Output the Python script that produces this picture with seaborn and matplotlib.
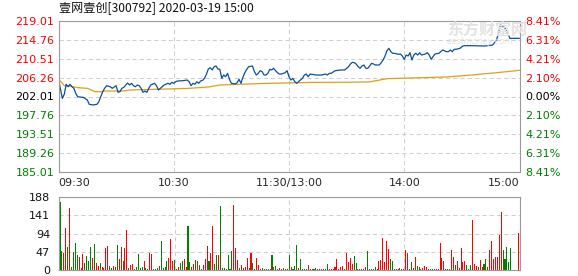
import numpy as np
import pandas as pd
import matplotlib
matplotlib.use("Agg")
import matplotlib.pyplot as plt
import seaborn as sns

# ---------------- data ----------------
title = "壹网壹创[300792] 2020-03-19 15:00"
pre_close = 202.01

price_ticks = [219.01, 214.76, 210.51, 206.26, 202.01, 197.76, 193.51, 189.26, 185.01]
pct_labels = ["8.41%", "6.31%", "4.21%", "2.10%", "0.00%", "2.10%", "4.21%", "6.31%", "8.41%"]
time_labels = ["09:30", "10:30", "11:30/13:00", "14:00", "15:00"]
time_ticks = [0, 60, 120, 180, 240]
vol_ticks = [0, 47, 94, 141, 188]

price_min = [0, 2, 3, 4, 5, 6, 7, 8, 9, 10, 13, 15, 16, 18, 20, 21, 22, 23, 24, 25,
             27, 28, 30, 31, 32, 33, 34, 35, 36, 37, 38, 39, 40, 41, 42, 43, 44, 45, 46, 47,
             48, 50, 51, 52, 53, 54, 55, 57, 58, 59, 60, 61, 62, 65, 67, 68, 69, 70, 71, 72,
             73, 74, 75, 76, 77, 78, 79, 80, 81, 82, 83, 84, 85, 86, 87, 88, 89, 90, 92, 93,
             94, 95, 96, 97, 98, 99, 101, 102, 103, 104, 105, 106, 107, 108, 109, 110, 111, 112, 113, 114,
             115, 116, 118, 119, 120, 121, 122, 123, 124, 125, 127, 128, 129, 130, 131, 134, 137, 139, 140, 141,
             142, 144, 147, 149, 151, 152, 153, 154, 155, 156, 157, 158, 159, 160, 161, 162, 163, 164, 165, 167,
             168, 169, 170, 171, 172, 173, 174, 175, 177, 178, 179, 180, 181, 182, 183, 184, 185, 186, 187, 188,
             189, 191, 192, 193, 194, 195, 196, 198, 199, 200, 202, 203, 204, 205, 206, 207, 209, 210, 211, 215,
             222, 226, 227, 228, 229, 230, 231, 232, 233, 234, 235, 240]
price = [205.90, 201.60, 202.50, 204.75, 204.20, 204.75, 204.20, 203.85, 202.70, 201.96, 201.80, 201.22, 200.25, 200.10, 200.25, 200.84, 201.96, 203.10, 203.85, 204.44,
         204.20, 203.85, 204.44, 202.95, 203.10, 203.85, 204.08, 204.60, 205.05, 204.60, 204.98, 204.44, 204.20, 204.60, 204.44, 203.85, 202.95, 203.25, 202.95, 203.85,
         204.60, 204.98, 204.44, 203.47, 203.85, 204.20, 204.60, 204.98, 204.75, 205.20, 204.98, 205.35, 205.50, 205.57, 205.72, 205.35, 204.44, 204.98, 204.75, 205.35,
         204.98, 205.50, 205.65, 206.10, 207.00, 208.20, 208.50, 207.98, 208.72, 208.88, 208.20, 208.13, 206.10, 206.85, 206.47, 207.23, 205.88, 204.98, 204.82, 205.12,
         205.88, 204.98, 206.33, 207.37, 208.13, 208.72, 208.88, 207.60, 206.85, 207.23, 207.82, 207.60, 206.85, 206.85, 207.23, 208.13, 207.98, 208.36, 207.82, 207.37,
         207.07, 207.07, 207.37, 207.82, 206.47, 205.72, 206.10, 205.35, 204.98, 205.35, 206.10, 206.85, 207.07, 206.47, 207.07, 206.85, 206.85, 207.07, 206.85, 207.23,
         207.23, 207.82, 207.98, 207.98, 208.72, 209.33, 209.71, 209.62, 209.33, 208.72, 208.36, 208.88, 209.10, 208.36, 208.36, 208.88, 209.48, 209.33, 209.10, 209.10,
         209.62, 210.23, 211.13, 212.32, 212.86, 212.10, 211.74, 211.74, 211.51, 211.58, 211.13, 210.39, 211.35, 211.13, 211.87, 210.23, 211.35, 211.74, 211.35, 211.87,
         211.35, 211.58, 211.87, 211.35, 210.39, 210.97, 211.58, 211.74, 212.10, 212.48, 212.10, 212.10, 212.48, 212.10, 212.64, 212.64, 212.86, 213.22, 213.45, 213.45,
         213.38, 213.60, 214.12, 214.73, 216.08, 218.11, 217.88, 217.59, 217.14, 216.08, 215.11, 215.11]

avg_min = [0, 2, 3, 6, 10, 15, 17, 19, 23, 24, 33, 37, 50, 57, 68, 78, 84, 93, 110, 134,
           148, 162, 171, 202, 215, 228, 240]
avg_price = [205.90, 204.98, 204.44, 204.37, 204.00, 203.85, 203.47, 203.10, 203.10, 203.25,
             203.25, 203.47, 203.63, 203.70, 203.85, 204.15, 204.60, 204.75, 204.98, 205.20,
             205.20, 205.30, 206.02, 206.40, 206.85, 207.37, 207.90]

# per-minute volume (r = up minute, g = down minute)
vol_p1 = [176, 49, 45, 109, 60, 160, 9, 47, 70, 39, 34, 6, 41, 17, 36, 23, 60, 32, 67, 17,
          10, 18, 9, 6, 57, 63, 10, 4, 10, 8, 64, 28, 60, 23, 56, 103, 4, 13, 15, 3,
          9, 41, 4, 9, 23, 5, 3, 43, 41, 3, 2, 5, 10, 75, 5, 7, 23, 32, 80, 24]
dir_p1 = "ggrrgrgggg" + "rrrggggrgr" + "rgrrrrggrr" + "grrgrrgrrg" + "ggggrggrrg" + "ggrggggrrr"
vol_p2 = [26, 3, 9, 17, 24, 28, 9, 113, 20, 9, 15, 26, 23, 13, 3, 13, 28, 62, 23, 43,
          113, 15, 39, 39, 165, 6, 6, 3, 39, 3, 49, 167, 57, 26, 6, 13, 6, 9, 32, 6,
          45, 18, 3, 32, 13, 3, 5, 3, 3, 3, 3, 39, 9, 10, 3, 5, 3, 5, 3, 3, 39]
dir_p2 = "grrggrrggr" + "rgrggrrrgr" + "rggrgggrgg" + "grrrgrrrrr" + "rggrrgggrrr" + "grggrgrgrg"
vol_p3 = [9, 3, 10, 64, 5, 28, 3, 3, 3, 13, 3, 3, 3, 5, 3, 3, 3, 3, 3, 15,
          3, 3, 3, 9, 28, 3, 9, 11, 3, 43, 21, 31, 15, 36, 18, 3, 3, 3, 3, 8,
          49, 3, 3, 3, 8, 3, 23, 26, 83, 21, 75, 54, 28, 23, 3, 3, 3, 5, 3, 3]
dir_p3 = "rgggrggggr" + "rgggrrrrgg" + "rrrrrrrrgr" + "rrrggrrrrr" + "grgggrrrrr" + "rrggrrgrgr"
vol_p4 = [51, 45, 3, 21, 5, 34, 10, 9, 3, 6, 11, 7, 3, 3, 3, 3, 3, 3, 70, 32,
          23, 3, 3, 3, 51, 34, 13, 23, 5, 57, 21, 23, 13, 3, 13, 129, 15, 10, 9, 26,
          9, 15, 28, 9, 51, 75, 28, 33, 33, 90, 149, 51, 28, 59, 21, 57, 0, 0, 0, 95]
dir_p4 = "rrggrrggrr" + "rrgggrrrrr" + "rgggrrgrrr" + "rrgggrrrgr" + "rggrrrrrrr" + "rgggggrrrr"

volume = vol_p1 + vol_p2 + vol_p3 + vol_p4
direction = list(dir_p1 + dir_p2 + dir_p3 + dir_p4)
vol_df = pd.DataFrame({"minute": np.arange(len(volume)), "volume": volume, "dir": direction})

# ---------------- style ----------------
sns.set_style("white")
plt.rcParams["font.family"] = ["DejaVu Sans", "Noto Sans CJK SC"]

RED = "#ff0000"
GREEN = "#008000"
BLUE = "#0b4f9f"
ORANGE = "#e0a012"
FRAME = "#999999"
GRID = "#cfcfcf"

W, H = 578, 276
fig = plt.figure(figsize=(W / 100, H / 100), dpi=100)
ax = fig.add_axes([58.5 / W, 1 - 172 / H, 461 / W, 151 / H])
axv = fig.add_axes([58.5 / W, 1 - 270 / H, 461 / W, 73 / H])

# watermark
fig.text(447 / W, 1 - 30 / H, "东方财富网", fontsize=11.5, color="#e2e2e2", fontweight="bold",
         family=["Noto Sans CJK SC"], ha="left", va="center", zorder=0)
fig.text(447 / W, 1 - 42 / H, "eastmoney.com", fontsize=6, color="#e2e2e2", style="italic",
         ha="left", va="center", zorder=0)

# price panel
sns.lineplot(x=avg_min, y=avg_price, ax=ax, color=ORANGE, linewidth=0.9, estimator=None, sort=False)
sns.lineplot(x=price_min, y=price, ax=ax, color=BLUE, linewidth=0.9, estimator=None, sort=False)
ax.set_xlim(0, 240)
ax.set_ylim(price_ticks[-1], price_ticks[0])
ax.set_yticks(price_ticks)
ax.set_yticklabels([f"{v:.2f}" for v in price_ticks])
ax.set_xticks(time_ticks)
ax.set_xticklabels(time_labels)
ax.patch.set_alpha(0)
ax.get_xticklabels()[0].set_ha("left")
ax.get_xticklabels()[-1].set_ha("right")
ax.tick_params(axis="both", length=0, labelsize=8)
ax.tick_params(axis="y", pad=3)
ax.tick_params(axis="x", pad=4)
for lab, v in zip(ax.get_yticklabels(), price_ticks):
    lab.set_color(RED if v > pre_close + 0.001 else (GREEN if v < pre_close - 0.001 else "black"))
ax.grid(False)
for v in price_ticks[1:-1]:
    ax.axhline(v, color=GRID, lw=0.75, ls=(0, (4, 3)), zorder=0)
for m in time_ticks[1:-1]:
    ax.axvline(m, color=GRID, lw=0.75, ls=(0, (4, 3)), zorder=0)
ax.set_xlabel("")
ax.set_ylabel("")

axr = ax.twinx()
axr.set_ylim(ax.get_ylim())
axr.set_yticks(price_ticks)
axr.set_yticklabels(pct_labels)
axr.tick_params(axis="y", length=0, labelsize=8, pad=4)
for lab, v in zip(axr.get_yticklabels(), price_ticks):
    lab.set_color(RED if v > pre_close + 0.001 else (GREEN if v < pre_close - 0.001 else "black"))
for s in axr.spines.values():
    s.set_visible(False)

for s in ax.spines.values():
    s.set_visible(True)
    s.set_color(FRAME)
    s.set_linewidth(0.8)

# volume panel
sns.histplot(data=vol_df, x="minute", weights="volume", hue="dir",
             palette={"r": RED, "g": GREEN}, discrete=True, shrink=0.55,
             multiple="layer", alpha=1, linewidth=0, legend=False,
             antialiased=False, ax=axv)
axv.set_xlim(-0.8, 240.6)
axv.set_ylim(0, vol_ticks[-1])
axv.set_yticks(vol_ticks)
axv.set_yticklabels([str(v) for v in vol_ticks])
axv.set_xticks([])
axv.tick_params(axis="y", length=0, labelsize=8, pad=6, colors="#111111")
axv.grid(False)
for v in vol_ticks[1:-1]:
    axv.axhline(v, color=GRID, lw=0.75, ls=(0, (4, 3)), zorder=0)
for m in time_ticks[1:-1]:
    axv.axvline(m, color=GRID, lw=0.75, ls=(0, (4, 3)), zorder=0)
axv.set_xlabel("")
axv.set_ylabel("")
for s in axv.spines.values():
    s.set_visible(True)
    s.set_color(FRAME)
    s.set_linewidth(0.8)

fig.text(59 / W, 1 - 8 / H, title, fontsize=8.7, family=["Noto Sans CJK SC", "DejaVu Sans"],
         ha="left", va="center", color="#111111")

fig.savefig("out.png", dpi=100)
